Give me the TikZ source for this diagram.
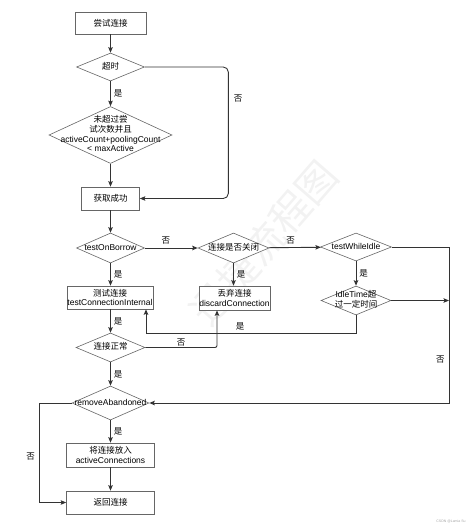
\documentclass[tikz,border=0pt]{standalone}
\usepackage{fontspec}
\setmainfont{Liberation Sans}
\newfontfamily\cjk{Noto Sans CJK SC}
\usetikzlibrary{shapes.geometric,arrows.meta}
% text that does not size the diamond
\newcommand{\ztext}[1]{\makebox[0pt]{\raisebox{-.25em}[0pt][0pt]{\begin{tabular}{@{}c@{}}#1\end{tabular}}}}
\begin{document}
\begin{tikzpicture}[x=1pt,y=-1pt,
  >={Stealth[length=5.5pt,width=4.5pt,inset=1pt]},
  box/.style={draw=black!60, line width=0.6pt, fill=white, rectangle, inner sep=0pt, align=center, font=\fontsize{8.5}{9.5}\selectfont},
  dia/.style={draw=black!60, line width=0.6pt, fill=white, diamond, inner sep=0pt, font=\fontsize{8.5}{9.5}\selectfont},
  line/.style={draw=black!80, line width=0.9pt},
  lbl/.style={font=\cjk\fontsize{8.5}{9.5}\selectfont, inner sep=1pt}]
\useasboundingbox (0,0) rectangle (474,526);
% watermark
\node[rotate=49, text=black!5, font=\cjk\fontsize{40}{40}\selectfont] (wm) at (264,243) {迅捷流程图};
\node[font=\fontsize{3.5}{4}\selectfont, text=black!35] (csdn) at (451,521) {CSDN @Lamia Su};
% main column
\draw (110.5,23) node[box, minimum width=71, minimum height=22](Try){\cjk 尝试连接}
(110.5,67) node[dia, minimum width=68, minimum height=28](Tmo){\ztext{\cjk 超时}}
(110.5,135) node[dia, minimum width=123, minimum height=57](Cnt){\ztext{{\cjk 未超过尝}\\{\cjk 试次数并且}\\activeCount+poolingCount\\< maxActive}}
(110.5,198.5) node[box, minimum width=58, minimum height=23](Got){\cjk 获取成功}
(110.5,248) node[dia, minimum width=68, minimum height=30](Tob){\ztext{testOnBorrow}}
(110,297.5) node[box, minimum width=86, minimum height=23](Tci){{\cjk 测试连接}\\testConnectionInternal}
(110.5,347.5) node[dia, minimum width=69, minimum height=29](Ok){\ztext{\cjk 连接正常}}
(110.5,403) node[dia, minimum width=77, minimum height=34](Rab){\ztext{removeAbandoned}}
(110.5,455) node[box, minimum width=88, minimum height=24](Put){{\cjk 将连接放入}\\activeConnections}
(110.5,502.5) node[box, minimum width=88, minimum height=23](Ret){\cjk 返回连接};
% right part
\draw (233.5,248) node[dia, minimum width=71, minimum height=30](Cls){\ztext{\cjk 连接是否关闭}}
(234.5,298) node[box, minimum width=71, minimum height=24](Dis){{\cjk 丢弃连接}\\discardConnection}
(356,247) node[dia, minimum width=71, minimum height=28](Twi){\ztext{testWhileIdle}}
(356,300.5) node[dia, minimum width=70, minimum height=29](Idl){\ztext{IdleTime{\cjk 超}\\{\cjk 过一定时间}}};
\coordinate (Vr) at (449,403);
% connectors
\draw [line] [->] (Try)--(Tmo);
\draw [line] [->] (Tmo)-- node[lbl, right=2pt]{是} (Cnt);
\draw [line] [->] (Cnt)--(Got);
\draw [line, rounded corners=5] [->] (Tmo.east)-- ++(83.5,0) |- node[lbl, pos=0.12, right=4pt]{否} (Got.east);
\draw [line] [->] (Got)--(Tob);
\draw [line] [->] (Tob)-- node[lbl, right=2pt]{是} (Tob |- Tci.north);
\draw [line] [->] (Tob)-- node[lbl, above=2pt, pos=0.4]{否} (Cls);
\draw [line] [->] (Cls)-- node[lbl, right=2pt]{是} (Cls |- Dis.north);
\draw [line] [->] (Cls)-- node[lbl, above=2pt, pos=0.42]{否} (Twi);
\draw [line] [->] (Twi)-- node[lbl, right=2pt]{是} (Idl);
\draw [line] [->] (Twi.east) -| node[lbl, pos=0.86, left=3pt]{否} (Vr) -- (Rab.east);
\draw [line] [->] (Idl.east)--(Idl.east -| Vr);
\draw [line] [->] (Idl.south)-- ++(0,18) -| node[lbl, pos=0.276, above=2pt]{是} ([xshift=36]Tci.south);
\draw [line] [->] (Tci.south -| Tob)-- node[lbl, right=2pt]{是} (Ok);
\draw [line, rounded corners=2] [->] (Ok.east) -| node[lbl, pos=0.25, above=0pt]{否} ([xshift=-17.5]Dis.south);
\draw [line] [->] (Ok)-- node[lbl, right=2pt]{是} (Rab);
\draw [line] [->] (Rab)-- node[lbl, right=2pt]{是} (Put);
\draw [line] [->] (Put)--(Ret);
\draw [line] [->] (Rab.west)-- ++(-32.5,0) |- node[lbl, pos=0.27, left=3pt]{否} (Ret.west);
\end{tikzpicture}
\end{document}
